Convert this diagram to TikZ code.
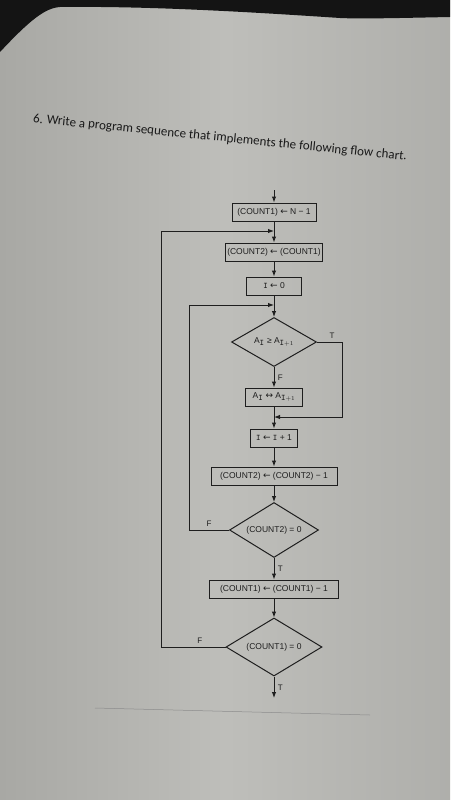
\documentclass[tikz,border=0pt]{standalone}
\usepackage{fontspec}
\setmainfont{Liberation Sans}
\newfontfamily\headfont{Carlito}
\newfontfamily\arrowfont{DejaVu Sans}
\usetikzlibrary{shapes.geometric, arrows.meta}

\definecolor{paper}{RGB}{190,190,186}
\definecolor{paperdark}{RGB}{168,168,164}
\definecolor{ink}{RGB}{30,30,30}
\newcommand{\vI}{\texttt{\bfseries I}}
\newcommand{\getsarrow}{{\arrowfont\small ←}}
\newcommand{\swaparrow}{{\arrowfont\small ↔}}

\begin{document}
\begin{tikzpicture}[x=1pt, y=-1pt, node distance=40pt, line width=1pt, draw=ink,
        box/.style={draw, rectangle, minimum height=18pt, inner sep=2pt, text=ink, font=\fontsize{8.5}{10}\selectfont},
        decision/.style={draw, diamond, aspect=1.6, inner sep=0pt, text=ink, font=\fontsize{8.5}{10}\selectfont},
        flow/.style={-{Latex[length=6pt,width=4.5pt]}},
        tf/.style={text=ink, font=\fontsize{8}{9}\selectfont}]
        % Page
        \shade[left color=paperdark, right color=paper!92!black, middle color=paper] (0,0) rectangle (450,800);
        \useasboundingbox (0,0) rectangle (450,800);
        \fill[black!92] (0,0) -- (450,0) -- (450,17) .. controls (400,18) and (360,19) .. (340,18)
            .. controls (250,12) and (150,6) .. (60,7) .. controls (45,8) and (30,20) .. (0,52) -- cycle;
        \node[text=black!90, font=\headfont\fontsize{13}{15}\selectfont, rotate=-5.8, anchor=base west] (title) at (29,122)
            {6. Write a program sequence that implements the following flow chart.};

        % Nodes
        \node[box, minimum width=84pt] (cnt1) at (274,212) {(COUNT1) \getsarrow\ N − 1};
        \node[box, minimum width=97pt, below of=cnt1] (cnt2) {(COUNT2) \getsarrow\ (COUNT1)};
        \node[box, minimum width=55pt, below of=cnt2, yshift=6pt] (izero) {\vI\ \getsarrow\ 0};
        \node[decision, minimum width=85pt, minimum height=49pt, below of=izero, yshift=-16pt] (cmp) {A$_{\vI}$ ≥ A$_{\vI+1}$};
        \node[box, minimum width=57pt, below of=cmp, yshift=-15pt] (swap) {A$_{\vI}$ \swaparrow\ A$_{\vI+1}$};
        \node[box, minimum width=47pt, below of=swap, yshift=-1pt] (incr) {\vI\ \getsarrow\ \vI\ + 1};
        \node[box, minimum width=126pt, below of=incr, yshift=2pt] (dec2) {(COUNT2) \getsarrow\ (COUNT2) − 1};
        \node[decision, minimum width=89pt, minimum height=55pt, below of=dec2, yshift=-14pt] (test2) {(COUNT2) = 0};
        \node[box, minimum width=129pt, below of=test2, yshift=-19pt] (dec1) {(COUNT1) \getsarrow\ (COUNT1) − 1};
        \node[decision, minimum width=96pt, minimum height=58pt, below of=dec1, yshift=-18pt] (test1) {(COUNT1) = 0};

        % Joins
        \coordinate[above of=cnt1, node distance=22pt] (start);
        \coordinate[below of=cnt1, node distance=19pt] (join2);
        \coordinate[below of=izero, node distance=19pt] (join1);
        \coordinate[below of=swap, node distance=20pt] (join3);
        \coordinate[below of=test1, node distance=51pt] (stop);

        % Arrows
        \draw[flow] (start) -- (cnt1);
        \draw (cnt1) -- (join2);
        \draw[flow] (join2) -- (cnt2);
        \draw[flow] (cnt2) -- (izero);
        \draw (izero) -- (join1);
        \draw[flow] (join1) -- (cmp);
        \draw[flow] (cmp) -- node[tf, right] {F} (swap);
        \draw[flow] (cmp.east) -- node[tf, above, pos=0.6] {T} ++(25,0) |- (join3);
        \draw (swap) -- (join3);
        \draw[flow] (join3) -- (incr);
        \draw[flow] (incr) -- (dec2);
        \draw[flow] (dec2) -- (test2);
        \draw[flow] (test2.west) -- node[tf, above, pos=0.5] {F} ++(-40,0) |- (join1);
        \draw[flow] (test2) -- node[tf, right] {T} (dec1);
        \draw[flow] (dec1) -- (test1);
        \draw[flow] (test1.west) -- node[tf, above, pos=0.4] {F} ++(-64,0) |- (join2);
        \draw[flow] (test1) -- node[tf, right] {T} (stop);

        % Faint rule at the foot
        \draw[black!45, line width=0.5pt] (95,708) -- (370,715);
    \end{tikzpicture}
\end{document}
